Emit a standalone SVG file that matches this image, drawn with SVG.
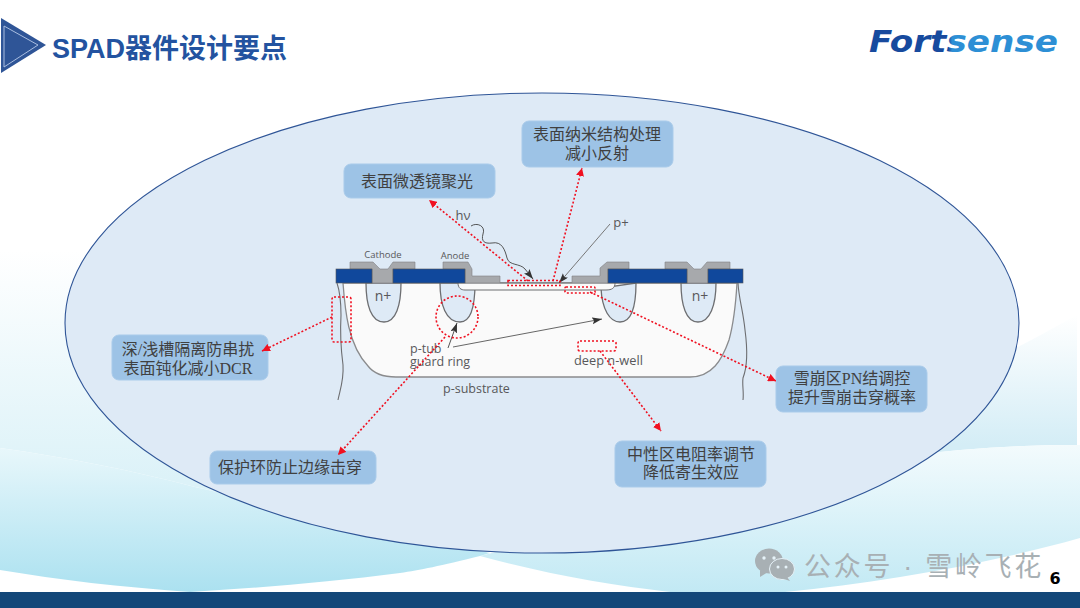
<svg xmlns="http://www.w3.org/2000/svg" width="1080" height="608" viewBox="0 0 1080 608">
<defs>
<style>
.lb{font-family:"Liberation Serif","Noto Sans CJK SC",serif;font-size:16px;fill:#404040;text-anchor:middle}
.box{fill:#9DC3E6;stroke:#a9cbea;stroke-width:1}
.d{font-family:"Open Sans","Liberation Sans",sans-serif;fill:#58585a}
.o{fill:#deeaf6;stroke:#6d6e71;stroke-width:1.3}
.w{fill:none;stroke:#6d6e71;stroke-width:1.1}
.r{fill:none;stroke:#f01020;stroke-width:1.6;stroke-dasharray:2 2}
.mt{fill:#a7a9ac;stroke:#808285;stroke-width:.6}
.bl{fill:#10489c;stroke:#555;stroke-width:.6}
.wm{font-family:"Liberation Sans","Noto Sans CJK SC",sans-serif;font-size:27px;fill:#a8b0b4;letter-spacing:2.7px}
</style>
<marker id="ra" markerWidth="9" markerHeight="8" refX="8" refY="4" orient="auto" markerUnits="userSpaceOnUse"><path d="M0 0L8 4L0 8Z" fill="#f01020"/></marker>
<marker id="ka" markerWidth="11" markerHeight="8" refX="10" refY="3.500" orient="auto" markerUnits="userSpaceOnUse"><path d="M0 0L10 3.500L0 7L2 3.500Z" fill="#333"/></marker>
<linearGradient id="a" x1="0" y1="250" x2="0" y2="480" gradientUnits="userSpaceOnUse"><stop offset="0" stop-color="#ffffff"/><stop offset="1" stop-color="#dcf2f8"/></linearGradient>
<linearGradient id="b" x1="0" y1="448" x2="0" y2="592" gradientUnits="userSpaceOnUse"><stop offset="0" stop-color="#e8f7fb"/><stop offset="1" stop-color="#abe1f0"/></linearGradient>
<linearGradient id="c" x1="0" y1="315" x2="0" y2="445" gradientUnits="userSpaceOnUse"><stop offset="0" stop-color="#ffffff"/><stop offset="1" stop-color="#d4edf6"/></linearGradient>
<linearGradient id="e" x1="0" y1="445" x2="0" y2="592" gradientUnits="userSpaceOnUse"><stop offset="0" stop-color="#f3fbfd"/><stop offset="1" stop-color="#c2e9f4"/></linearGradient>
<linearGradient id="fs" x1="0" y1="0" x2="1" y2="0"><stop offset="0" stop-color="#174a9e"/><stop offset=".42" stop-color="#174a9e"/><stop offset=".44" stop-color="#2d8fd5"/><stop offset="1" stop-color="#2d8fd5"/></linearGradient>
</defs>
<rect width="1080" height="608" fill="#fff"/>
<g id="background">
<path d="M0 250H300V510L195 487C130 470 70 458 0 448Z" fill="url(#a)"/>
<path d="M1077 315C1040 335 1000 360 900 400V460L940 452C990 447 1030 445 1077 445Z" fill="url(#c)"/>
<path d="M480 556C620 520 800 465 940 452C990 447 1030 445 1080 445V538C980 566 880 582 785 592H670C610 585 550 575 480 556Z" fill="url(#e)"/>
<path d="M0 448C70 458 130 470 195 487L490 553L480 556C440 566 420 570 400 573C330 582 260 588 190 592C120 587 60 580 0 570Z" fill="url(#b)"/>
<rect y="592" width="1080" height="16" fill="#134779"/>
</g>
<ellipse id="oval" cx="542" cy="323" rx="477" ry="230" fill="#deeaf6" stroke="#2f5597" stroke-width="1.100"/>
<g id="header">
<path d="M1 18L46 45L1 73Z" fill="#2f5597"/>
<path d="M4 26L38 45L4 67Z" fill="none" stroke="#a9bde0" stroke-width="1"/>
<text x="52" y="58" font-family="'Liberation Sans','Noto Sans CJK SC',sans-serif" font-size="27" font-weight="700" fill="#2353a0">SPAD器件设计要点</text>
<text x="869" y="52" font-family="'DejaVu Sans',sans-serif" font-size="31" font-weight="700" font-style="italic" fill="url(#fs)" textLength="189" lengthAdjust="spacingAndGlyphs">Fortsense</text>
</g>
<g id="device">
<path d="M343 283C345 310 348 345 368 366C374 374 384 377 396 377H690C712 377 722 360 729 340C734 322 736 300 737 283Z" fill="#fafafa" stroke="#8a8b8d" stroke-width="1.300"/>
<path class="o" d="M366 283C366 305 371 322 384 322C396 322 401 305 401 283Z"/>
<path class="o" d="M440 283C440 305 446 322 460 322C470 322 475 310 475 283Z"/>
<path class="o" d="M601 288C602 310 610 322 620 322C630 322 636 310 636 283Z"/>
<path class="o" d="M681 283C681 305 686 322 698 322C710 322 716 305 716 283Z"/>
<path d="M458 283C458 288 461 290 465 290H606C612 290 615 288 615 283Z" fill="#fafafa" stroke="#6d6e71" stroke-width="1"/>
<path class="w" d="M337 283C340 292 341 300 341 315C340 333 341 350 343 365C344 380 340 390 338 400"/>
<path class="w" d="M738 283C739 300 743 310 745 330C747 345 748 365 743 378C742 385 744 392 743 400"/>
<path class="mt" d="M350 269V262H373L380 269H388L393 262H415V269H393V283H372V269Z"/>
<path class="mt" d="M443 269V262H468L472 269V276H500V283H465V269Z"/>
<path class="mt" d="M572 283V276H600V268L607 262H629V269H608V283Z"/>
<path class="mt" d="M665 269V262H687L694 269H701L707 262H730V269H708V283H687V269Z"/>
<rect class="bl" x="336" y="269" width="36" height="14"/>
<rect class="bl" x="393" y="269" width="72" height="14"/>
<rect class="bl" x="608" y="269" width="79" height="14"/>
<rect class="bl" x="708" y="269" width="35" height="14"/>
<path d="M500 283H572" stroke="#8a8b8d" stroke-width="1" fill="none"/>
<path d="M471 226C477 222 486 226 483 234C481 241 484 244 492 243C502 241 505 250 507 258C509 266 520 263 525 269L533 279" fill="none" stroke="#444" stroke-width=".9" marker-end="url(#ka)"/>
<path d="M610 224L559 283" stroke="#777" stroke-width="1" marker-end="url(#ka)"/>
<path d="M448 348L457 323" stroke="#555" stroke-width="1" marker-end="url(#ka)"/>
<path d="M453 347L602 319" stroke="#666" stroke-width="1" marker-end="url(#ka)"/>
<g class="d">
<text x="383" y="258" font-size="9.500" text-anchor="middle">Cathode</text>
<text x="455" y="259" font-size="9.500" text-anchor="middle">Anode</text>
<text x="463" y="220" font-size="13" text-anchor="middle">hν</text>
<text x="621" y="227" font-size="13" text-anchor="middle">p+</text>
<text x="383" y="301" font-size="14" text-anchor="middle">n+</text>
<text x="700" y="301" font-size="14" text-anchor="middle">n+</text>
<text x="410" y="353" font-size="12.500">p-tub</text>
<text x="410" y="366" font-size="12.500">guard ring</text>
<text x="574" y="365" font-size="12.800">deep n-well</text>
<text x="443" y="393" font-size="12.500">p-substrate</text>
</g>
</g>
<g id="n1"><rect class="box" x="522" y="121" width="151" height="46" rx="7"/><text class="lb" x="597" y="140">表面纳米结构处理</text><text class="lb" x="597" y="159">减小反射</text></g>
<g id="n2"><rect class="box" x="344" y="164" width="151" height="34" rx="7"/><text class="lb" x="417" y="187">表面微透镜聚光</text></g>
<g id="n3"><rect class="box" x="112" y="335" width="156" height="45" rx="7"/><text class="lb" x="188" y="355">深/浅槽隔离防串扰</text><text class="lb" x="188" y="374">表面钝化减小DCR</text></g>
<g id="n4"><rect class="box" x="776" y="366" width="151" height="46" rx="7"/><text class="lb" x="852" y="384">雪崩区PN结调控</text><text class="lb" x="852" y="403">提升雪崩击穿概率</text></g>
<g id="n5"><rect class="box" x="210" y="451" width="166" height="33" rx="7"/><text class="lb" x="290" y="473">保护环防止边缘击穿</text></g>
<g id="n6"><rect class="box" x="615" y="441" width="151" height="46" rx="7"/><text class="lb" x="691" y="460">中性区电阻率调节</text><text class="lb" x="691" y="478">降低寄生效应</text></g>
<g id="connectors">
<rect class="r" x="332" y="297" width="19" height="45" rx="2"/>
<circle class="r" cx="457" cy="317" r="21"/>
<rect class="r" x="508" y="280.500" width="52" height="5"/>
<rect class="r" x="565" y="287" width="30" height="6" rx="1"/>
<rect class="r" x="578" y="341" width="38" height="10" rx="2"/>
<path class="r" d="M528 281L429 200" marker-end="url(#ra)"/>
<path class="r" d="M553 281L582 168" marker-end="url(#ra)"/>
<path class="r" d="M332 317L262 351" marker-end="url(#ra)"/>
<path class="r" d="M445 337L338 455" marker-end="url(#ra)"/>
<path class="r" d="M590 292L776 381" marker-end="url(#ra)"/>
<path class="r" d="M600 351L661 431" marker-end="url(#ra)"/>
</g>
<g id="footer">
<ellipse cx="769" cy="561" rx="14" ry="12.500" fill="#a8b0b4"/>
<path d="M760 570L760 577L768 572Z" fill="#a8b0b4"/>
<ellipse cx="782" cy="569" rx="12.500" ry="10.500" fill="#a8b0b4" stroke="#e6f2f8" stroke-width="1"/>
<path d="M787 577L790 581L781 578Z" fill="#a8b0b4"/>
<circle cx="764" cy="558" r="1.700" fill="#e6f2f8"/><circle cx="774" cy="558" r="1.700" fill="#e6f2f8"/>
<circle cx="778" cy="567" r="1.500" fill="#e6f2f8"/><circle cx="786" cy="567" r="1.500" fill="#e6f2f8"/>
<text x="804" y="576" class="wm">公众号 · 雪岭飞花</text>
<text x="1055" y="584" font-family="'DejaVu Sans',sans-serif" font-size="16" font-weight="700" text-anchor="middle" fill="#000">6</text>
</g>
</svg>
